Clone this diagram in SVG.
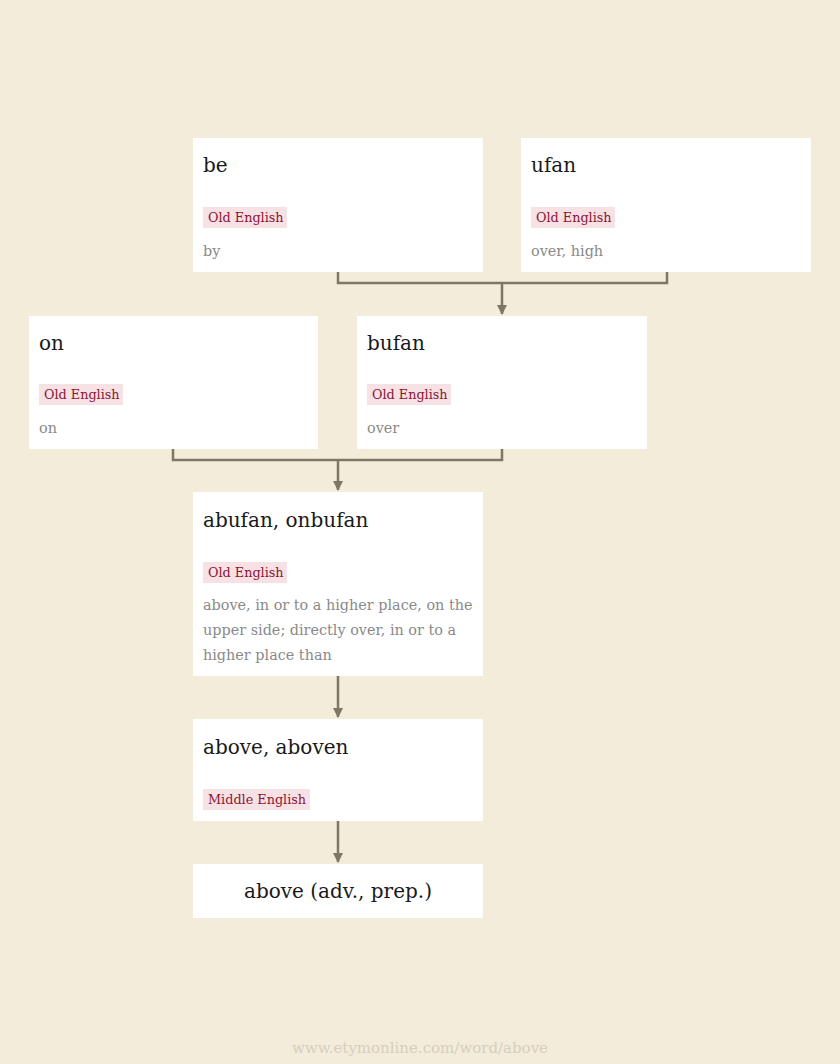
<svg xmlns="http://www.w3.org/2000/svg" width="840" height="1064" viewBox="0 0 840 1064">
<defs>
<style>
.box{fill:#ffffff}
.title{font-family:"DejaVu Serif","Liberation Serif",serif;font-size:20px;fill:#1a1a1a}
.tagbg{fill:#f6e1e5}
.tag{font-family:"DejaVu Serif","Liberation Serif",serif;font-size:12.8px;fill:#8c1433}
.gloss{font-family:"DejaVu Serif","Liberation Serif",serif;font-size:14.4px;fill:#8a8a8a}
.conn{fill:none;stroke:#7c7767;stroke-width:2.5}
.foot{font-family:"DejaVu Serif","Liberation Serif",serif;font-size:15px;fill:#d6cfbf}
</style>
<marker id="arr" viewBox="0 0 10 10" refX="9" refY="5" markerWidth="10" markerHeight="10" markerUnits="userSpaceOnUse" orient="auto">
<path d="M0,0 L10,5 L0,10 Z" fill="#7c7767"/>
</marker>
</defs>
<rect width="840" height="1064" fill="#f3ecda"/>
<g id="connectors">
<path class="conn" d="M338,272 V283 H667 V272"/>
<path class="conn" d="M502,283 V314" marker-end="url(#arr)"/>
<path class="conn" d="M173,449 V460 H502 V449"/>
<path class="conn" d="M338,460 V490" marker-end="url(#arr)"/>
<path class="conn" d="M338,676 V717" marker-end="url(#arr)"/>
<path class="conn" d="M338,821 V862" marker-end="url(#arr)"/>
</g>
<g id="node-be">
<rect class="box" x="193" y="138" width="290" height="134"/>
<text class="title" x="203" y="172">be</text>
<rect class="tagbg" x="203" y="207" width="84" height="21"/>
<text class="tag" x="208" y="222">Old English</text>
<text class="gloss" x="203" y="256">by</text>
</g>
<g id="node-ufan">
<rect class="box" x="521" y="138" width="290" height="134"/>
<text class="title" x="531" y="172">ufan</text>
<rect class="tagbg" x="531" y="207" width="84" height="21"/>
<text class="tag" x="536" y="222">Old English</text>
<text class="gloss" x="531" y="256">over, high</text>
</g>
<g id="node-on">
<rect class="box" x="29" y="316" width="289" height="133"/>
<text class="title" x="39" y="350">on</text>
<rect class="tagbg" x="39" y="384" width="84" height="21"/>
<text class="tag" x="44" y="399">Old English</text>
<text class="gloss" x="39" y="433">on</text>
</g>
<g id="node-bufan">
<rect class="box" x="357" y="316" width="290" height="133"/>
<text class="title" x="367" y="350">bufan</text>
<rect class="tagbg" x="367" y="384" width="84" height="21"/>
<text class="tag" x="372" y="399">Old English</text>
<text class="gloss" x="367" y="433">over</text>
</g>
<g id="node-abufan">
<rect class="box" x="193" y="492" width="290" height="184"/>
<text class="title" x="203" y="527">abufan, onbufan</text>
<rect class="tagbg" x="203" y="562" width="84" height="21"/>
<text class="tag" x="208" y="577">Old English</text>
<text class="gloss" x="203" y="610">above, in or to a higher place, on the</text>
<text class="gloss" x="203" y="635">upper side; directly over, in or to a</text>
<text class="gloss" x="203" y="660">higher place than</text>
</g>
<g id="node-aboven">
<rect class="box" x="193" y="719" width="290" height="102"/>
<text class="title" x="203" y="754">above, aboven</text>
<rect class="tagbg" x="203" y="789" width="107" height="21"/>
<text class="tag" x="208" y="804">Middle English</text>
</g>
<g id="node-above">
<rect class="box" x="193" y="864" width="290" height="54"/>
<text class="title" x="338" y="898" text-anchor="middle">above (adv., prep.)</text>
</g>
<text class="foot" x="420" y="1053" text-anchor="middle">www.etymonline.com/word/above</text>
</svg>
